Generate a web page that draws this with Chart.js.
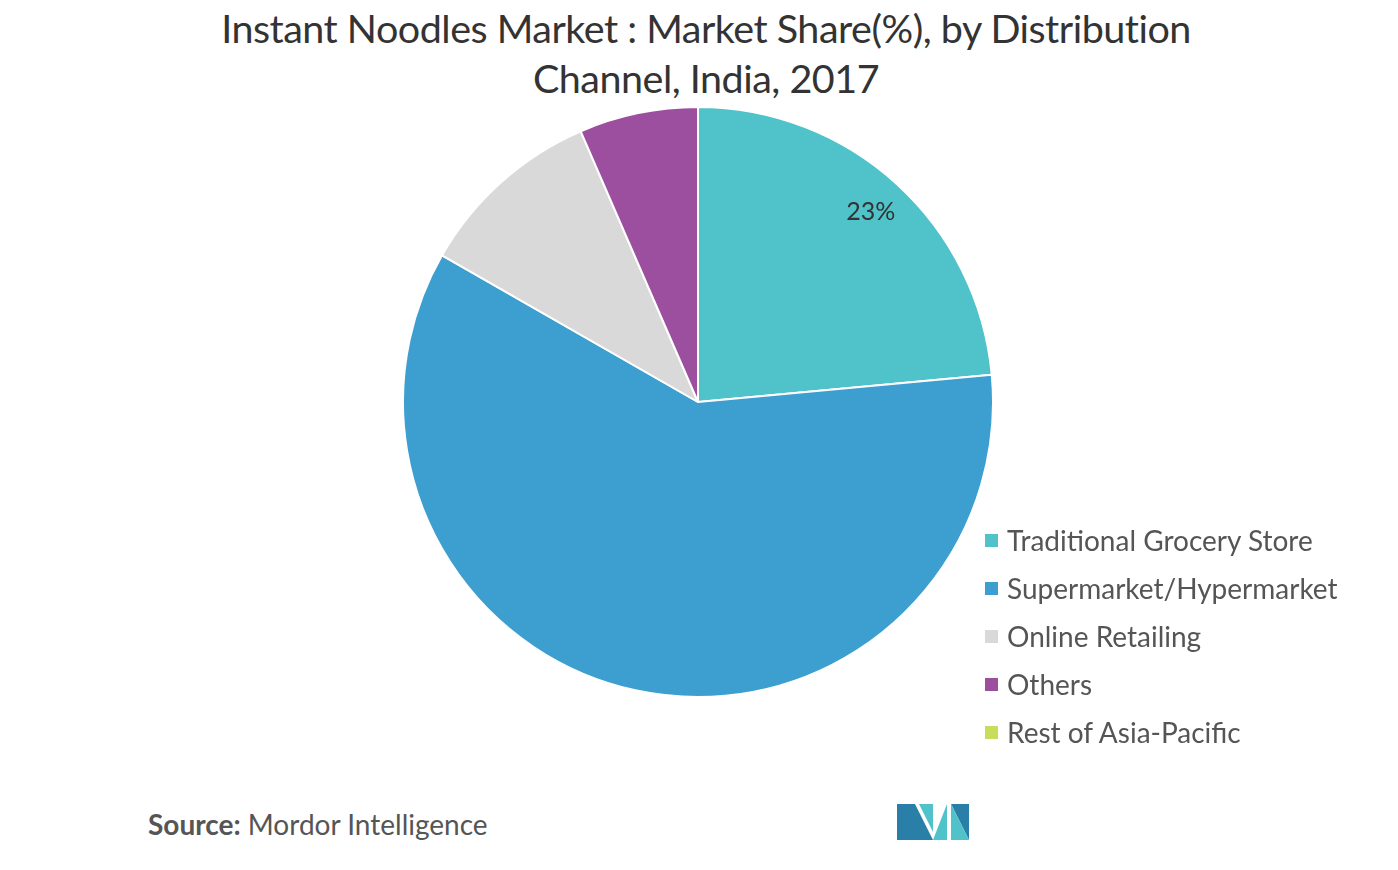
<!DOCTYPE html>
<html><head><meta charset="utf-8">
<script src="https://cdn.jsdelivr.net/npm/chart.js@4"></script>
<style>
body{margin:0;width:1398px;height:870px;background:#fff;font-family:Lato,sans-serif;position:relative;overflow:hidden}
#title{position:absolute;left:0;width:1412px;top:3px;text-align:center;font-size:39.5px;line-height:50px;color:#333;letter-spacing:-0.5px}
#wrap{position:absolute;left:400px;top:104px;width:596px;height:596px}
#legend{position:absolute;left:985px;top:516px;font-size:28px;color:#555}
#legend div{height:48px;display:flex;align-items:center}
#legend span{display:inline-block;width:13px;height:13px;margin-right:9px}
#src{position:absolute;left:148px;top:807px;font-size:28px;color:#555}
</style></head><body>
<div id="title">Instant Noodles Market : Market Share(%), by Distribution<br>Channel, India, 2017</div>
<div id="wrap"><canvas id="c"></canvas></div>
<div id="legend"></div>
<div id="src"><b>Source:</b> Mordor Intelligence</div>
<svg style="position:absolute;left:897px;top:802px" width="74" height="40">
<polygon points="0,38 0,2 18,2 36,38" fill="#2a7fa8"/><polygon points="22,2 36,2 36,30" fill="#4fc3c9"/>
<polygon points="36,38 50,2 50,38" fill="#4fc3c9"/><polygon points="54,2 72,2 72,38" fill="#2a7fa8"/><polygon points="54,2 72,38 54,38" fill="#4fc3c9"/>
</svg>
<script>
const categories=["Traditional Grocery Store","Supermarket/Hypermarket","Online Retailing","Others","Rest of Asia-Pacific"];
const values=[23.5,59.7,10.2,6.5,0];
const labels=["23%","","","",""];
const colors=["#50c2c9","#3d9fd0","#d9d9d9","#9c4f9e","#c9dc5e"];
const lg=document.getElementById('legend');
categories.forEach((c,i)=>{lg.innerHTML+=`<div><span style="background:${colors[i]}"></span>${c}</div>`});
const lblPlugin={id:'lbl',afterDatasetsDraw(ch){const ctx=ch.ctx;ch.getDatasetMeta(0).data.forEach((a,i)=>{if(!labels[i])return;const m=(a.startAngle+a.endAngle)/2,r=a.outerRadius*0.87;ctx.save();ctx.font='25px Lato';ctx.fillStyle='#333';ctx.textAlign='center';ctx.textBaseline='middle';ctx.fillText(labels[i],a.x+Math.cos(m)*r,a.y+Math.sin(m)*r);ctx.restore();});}};
new Chart(document.getElementById('c'),{type:'pie',data:{labels:categories,datasets:[{data:values,backgroundColor:colors,borderColor:'#fff',borderWidth:2}]},
options:{responsive:true,maintainAspectRatio:false,animation:false,layout:{padding:2},plugins:{legend:{display:false},tooltip:{enabled:false}}},plugins:[lblPlugin]});
</script></body></html>
